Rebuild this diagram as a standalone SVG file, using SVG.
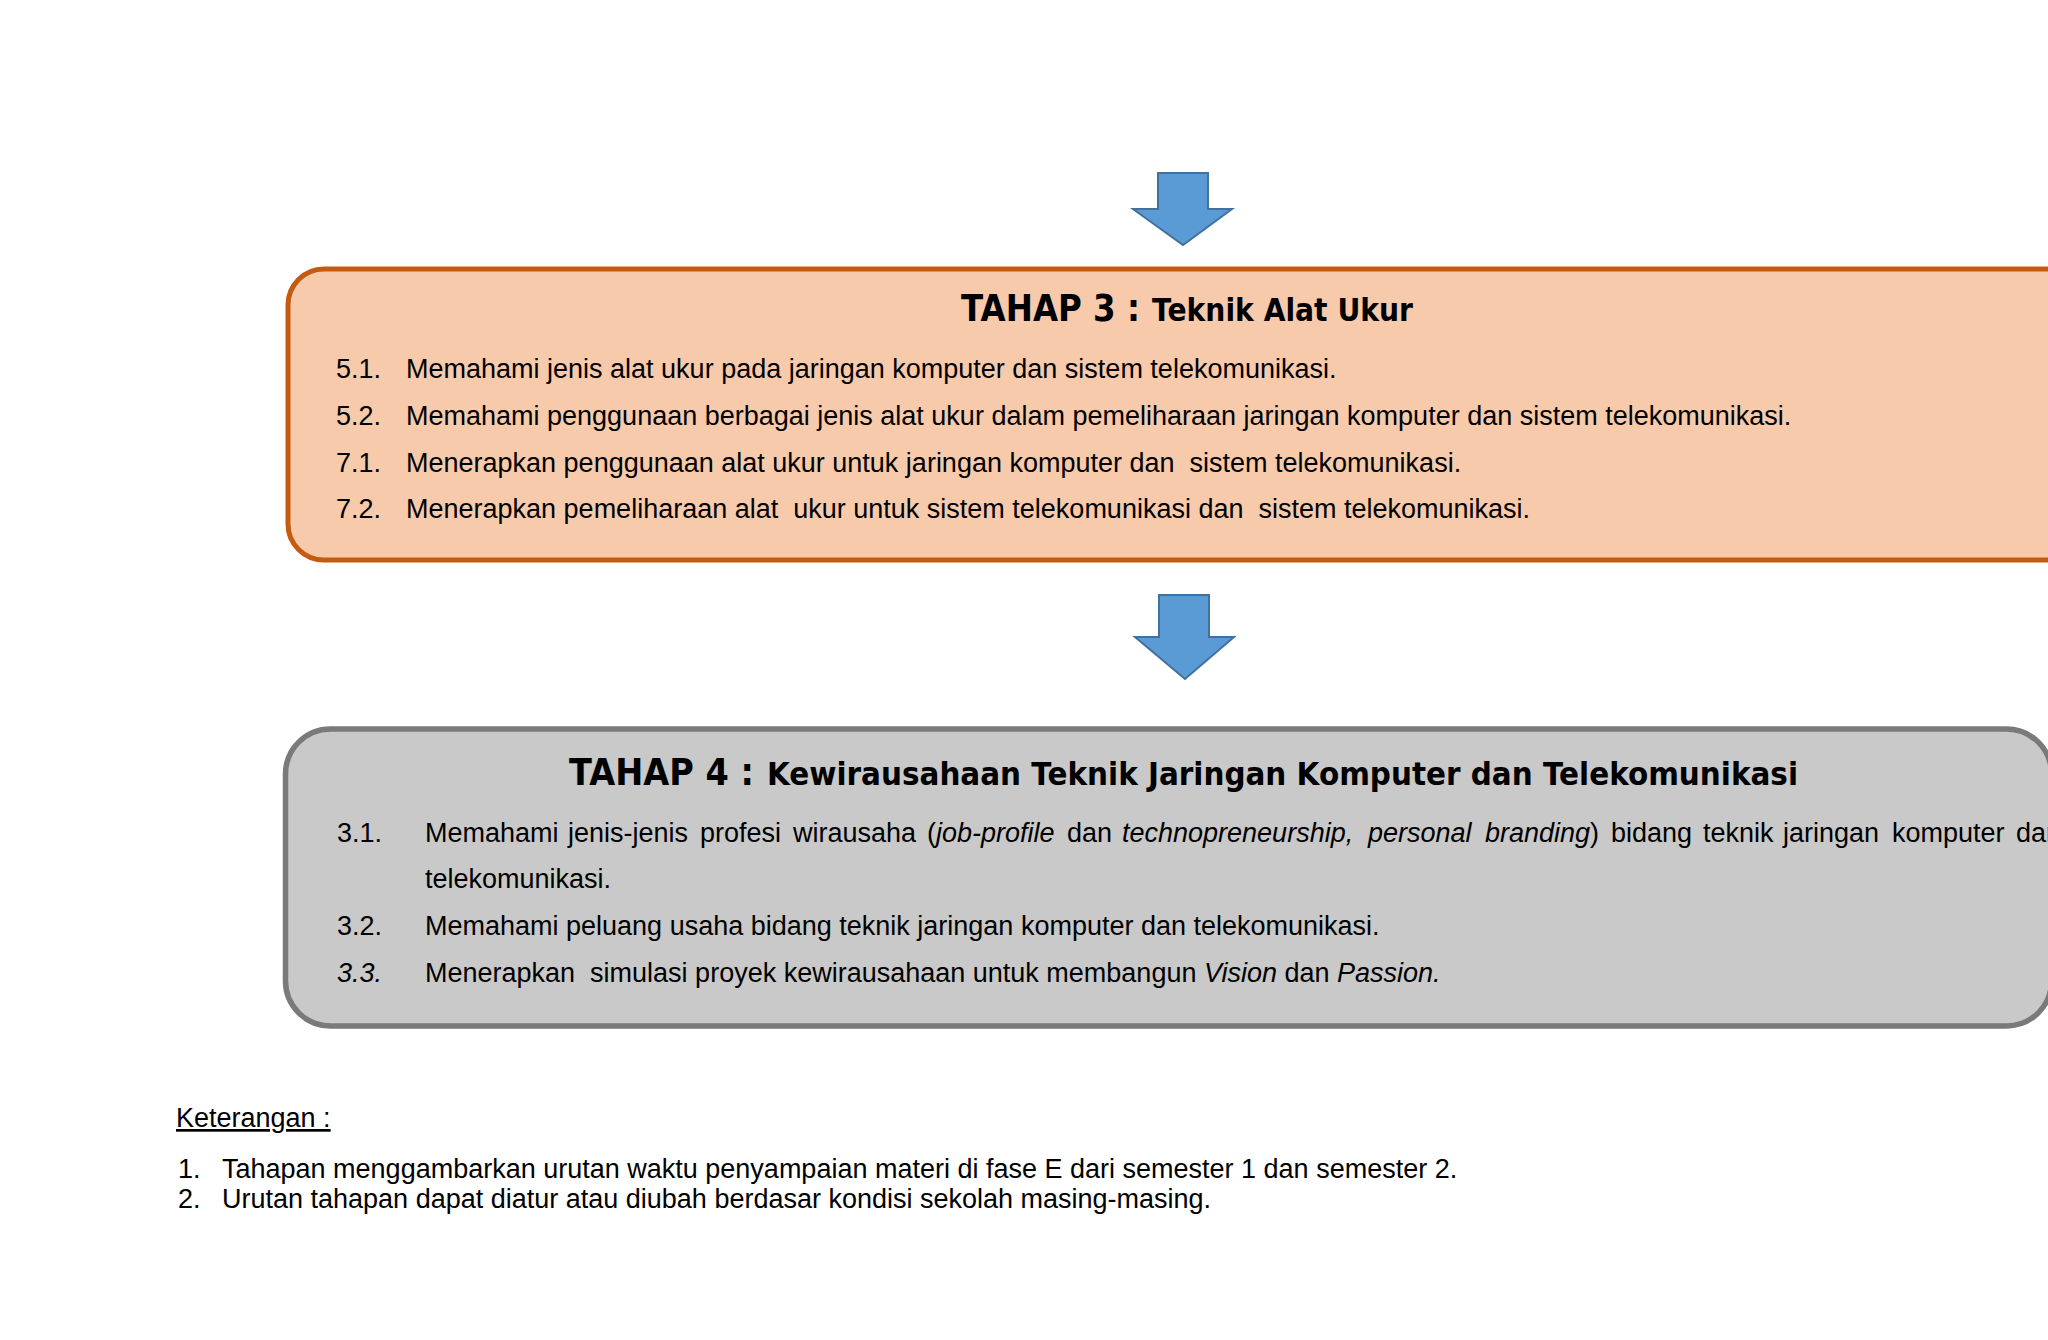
<svg xmlns="http://www.w3.org/2000/svg" width="2048" height="1340" viewBox="0 0 2048 1340">
<style>
.arrow{fill:#5B9BD5;stroke:#41719C;stroke-width:2;stroke-linejoin:miter}
.t1{font-family:"DejaVu Sans",Verdana,sans-serif;font-weight:bold;fill:#000}
.b{font-family:"Liberation Sans",Arial,sans-serif;font-size:27px;fill:#000}
.k{font-family:"Liberation Sans",Arial,sans-serif;font-size:27px;fill:#000}
.i{font-style:italic}
</style>
<rect width="2048" height="1340" fill="#fff"/>
<g id="connectors">
<path class="arrow" d="M1158,173 H1208 V209 H1232 L1183,245 L1133,209 H1158 Z"/>
<path class="arrow" d="M1159,595 H1209 V637 H1234 L1185,679 L1135,637 H1159 Z"/>
</g>
<g id="tahap3">
<rect x="288" y="269" width="1820" height="291" rx="36" ry="36" fill="#F7CAAC" stroke="#C55A11" stroke-width="5"/>
<text class="t1" x="961" y="321" font-size="38" textLength="179" lengthAdjust="spacingAndGlyphs">TAHAP 3 :</text>
<text class="t1" x="1152" y="321" font-size="32" textLength="261" lengthAdjust="spacingAndGlyphs">Teknik Alat Ukur</text>
<text class="b" x="336" y="378">5.1.</text>
<text class="b" x="406" y="378">Memahami jenis alat ukur pada jaringan komputer dan sistem telekomunikasi.</text>
<text class="b" x="336" y="425">5.2.</text>
<text class="b" x="406" y="425">Memahami penggunaan berbagai jenis alat ukur dalam pemeliharaan jaringan komputer dan sistem telekomunikasi.</text>
<text class="b" x="336" y="472">7.1.</text>
<text class="b" x="406" y="472" xml:space="preserve">Menerapkan penggunaan alat ukur untuk jaringan komputer dan  sistem telekomunikasi.</text>
<text class="b" x="336" y="518">7.2.</text>
<text class="b" x="406" y="518" xml:space="preserve">Menerapkan pemeliharaan alat  ukur untuk sistem telekomunikasi dan  sistem telekomunikasi.</text>
</g>
<g id="tahap4">
<rect x="285.5" y="729" width="1766" height="297" rx="45" ry="45" fill="#C9C9C9" stroke="#7A7A7A" stroke-width="5.5"/>
<text class="t1" x="569" y="785" font-size="38" textLength="185" lengthAdjust="spacingAndGlyphs">TAHAP 4 :</text>
<text class="t1" x="767" y="785" font-size="32" textLength="1031" lengthAdjust="spacingAndGlyphs">Kewirausahaan Teknik Jaringan Komputer dan Telekomunikasi</text>
<text class="b" x="337" y="842">3.1.</text>
<text class="b" y="842"><tspan x="425">Memahami</tspan><tspan x="568">jenis-jenis</tspan><tspan x="700">profesi</tspan><tspan x="793">wirausaha</tspan><tspan x="927">(</tspan><tspan class="i">job-profile</tspan><tspan x="1067">dan</tspan><tspan x="1122" class="i">technopreneurship,</tspan><tspan x="1368" class="i">personal</tspan><tspan x="1485" class="i">branding</tspan><tspan>)</tspan><tspan x="1611">bidang</tspan><tspan x="1703">teknik</tspan><tspan x="1783">jaringan</tspan><tspan x="1892">komputer</tspan><tspan x="2016">dan</tspan></text>
<text class="b" x="425" y="888">telekomunikasi.</text>
<text class="b" x="337" y="935">3.2.</text>
<text class="b" x="425" y="935">Memahami peluang usaha bidang teknik jaringan komputer dan telekomunikasi.</text>
<text class="b i" x="337" y="982">3.3.</text>
<text class="b" x="425" y="982" xml:space="preserve">Menerapkan  simulasi proyek kewirausahaan untuk membangun <tspan class="i">Vision</tspan> dan <tspan class="i">Passion.</tspan></text>
</g>
<g id="keterangan">
<text class="k" x="176" y="1127" text-decoration="underline">Keterangan :</text>
<text class="k" x="178" y="1178">1.</text>
<text class="k" x="222" y="1178">Tahapan menggambarkan urutan waktu penyampaian materi di fase E dari semester 1 dan semester 2.</text>
<text class="k" x="178" y="1208">2.</text>
<text class="k" x="222" y="1208">Urutan tahapan dapat diatur atau diubah berdasar kondisi sekolah masing-masing.</text>
</g>
</svg>
